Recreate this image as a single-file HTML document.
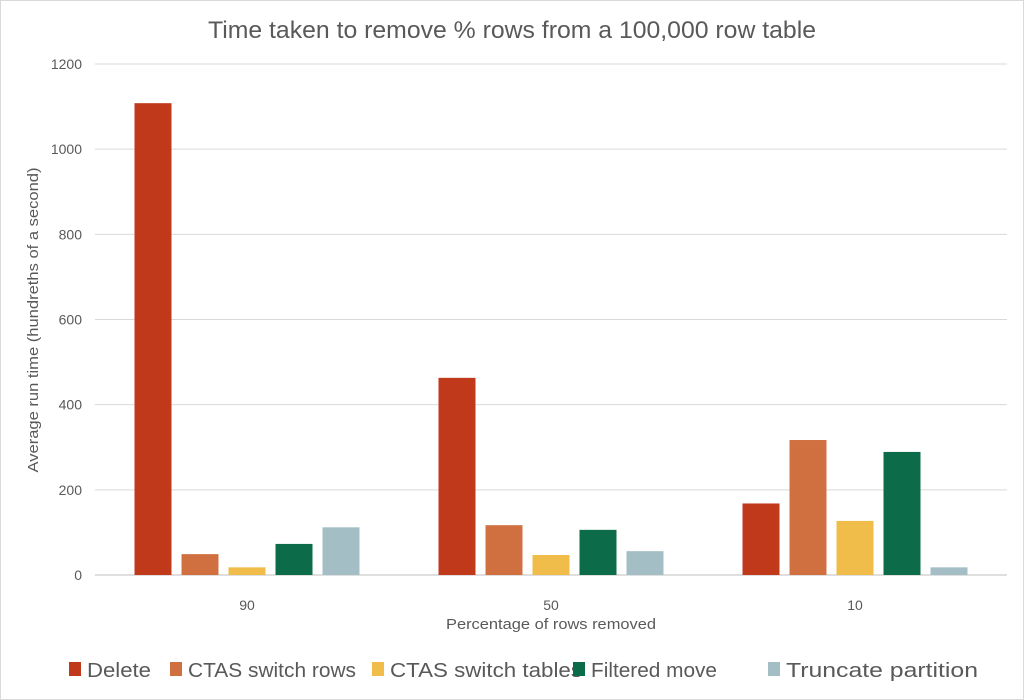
<!DOCTYPE html>
<html><head><meta charset="utf-8"><style>
body{margin:0;background:#fff;}
svg{display:block;font-family:"Liberation Sans",sans-serif;}
</style></head><body>
<svg id="chart" width="1024" height="700" viewBox="0 0 1024 700">
<rect x="0.5" y="0.5" width="1023" height="699" fill="#fff" stroke="#d9d9d9"/>
<text x="512" y="38" text-anchor="middle" font-size="24" fill="#595959" textLength="608" lengthAdjust="spacingAndGlyphs">Time taken to remove % rows from a 100,000 row table</text>
<g id="grid"></g>
<g id="bars"></g>
<g id="xlabels"></g>
<text transform="translate(38,320) rotate(-90)" text-anchor="middle" font-size="15" fill="#595959" textLength="305" lengthAdjust="spacingAndGlyphs">Average run time (hundreths of a second)</text>
<text x="551" y="629" text-anchor="middle" font-size="15" fill="#595959" textLength="210" lengthAdjust="spacingAndGlyphs">Percentage of rows removed</text>
<g id="legend"></g>
</svg>
<script>
const categories=["90","50","10"];
const seriesNames=["Delete","CTAS switch rows","CTAS switch tables","Filtered move","Truncate partition"];
const deleteVals=[1108,463,168];
const ctasRowsVals=[49,117,317];
const ctasTablesVals=[18,47,127];
const filteredVals=[73,106,289];
const truncateVals=[112,56,18];
const yTicks=[0,200,400,600,800,1000,1200];
const series=[deleteVals,ctasRowsVals,ctasTablesVals,filteredVals,truncateVals];
const colors=["#c0391b","#d07040","#f0bc4a","#0c6b48","#a3bec4"];
const NS="http://www.w3.org/2000/svg";
const x0=95,x1=1007,yBase=575,yTop=64,yMax=1200;
const y=v=>yBase-(v/yMax)*(yBase-yTop);
const band=(x1-x0)/categories.length;
function el(t,a,p){const e=document.createElementNS(NS,t);for(const k in a)e.setAttribute(k,a[k]);p.appendChild(e);return e;}
const grid=document.getElementById('grid');
yTicks.forEach(t=>{
 const l=el('line',{x1:x0,x2:x1,y1:y(t),y2:y(t),stroke:t===0?'#bfbfbf':'#d9d9d9','stroke-width':1},grid);
 
 
 const tx=el('text',{x:82,y:y(t)+5,'text-anchor':'end','font-size':14,fill:'#595959'},grid);
 tx.textContent=t;
 
 
});
const bars=document.getElementById('bars'),xl=document.getElementById('xlabels');
const bw=37,step=47;
categories.forEach((c,i)=>{
 const cx=x0+band*(i+0.5);
 const start=cx-(step*4+bw)/2;
 series.forEach((s,j)=>{
  const r=el('rect',{x:start+j*step,y:y(s[i]),width:bw,height:yBase-y(s[i]),fill:colors[j]},bars);
  
  
 });
 const t=el('text',{x:cx,y:610,'text-anchor':'middle','font-size':14,fill:'#595959'},xl);
 t.textContent=c;
 
 
});
const lg=document.getElementById('legend');
const lx=[69,170,372,573,768],lw=[64,168,192,126,192];
seriesNames.forEach((n,j)=>{
 const g=el('g',{},lg);
 
 
 el('rect',{x:lx[j],y:662,width:12,height:14,fill:colors[j]},g);
 const t=el('text',{x:lx[j]+18,y:677,'font-size':20,fill:'#595959',textLength:lw[j],lengthAdjust:'spacingAndGlyphs'},g);
 t.textContent=n;
});
</script>
</body></html>
